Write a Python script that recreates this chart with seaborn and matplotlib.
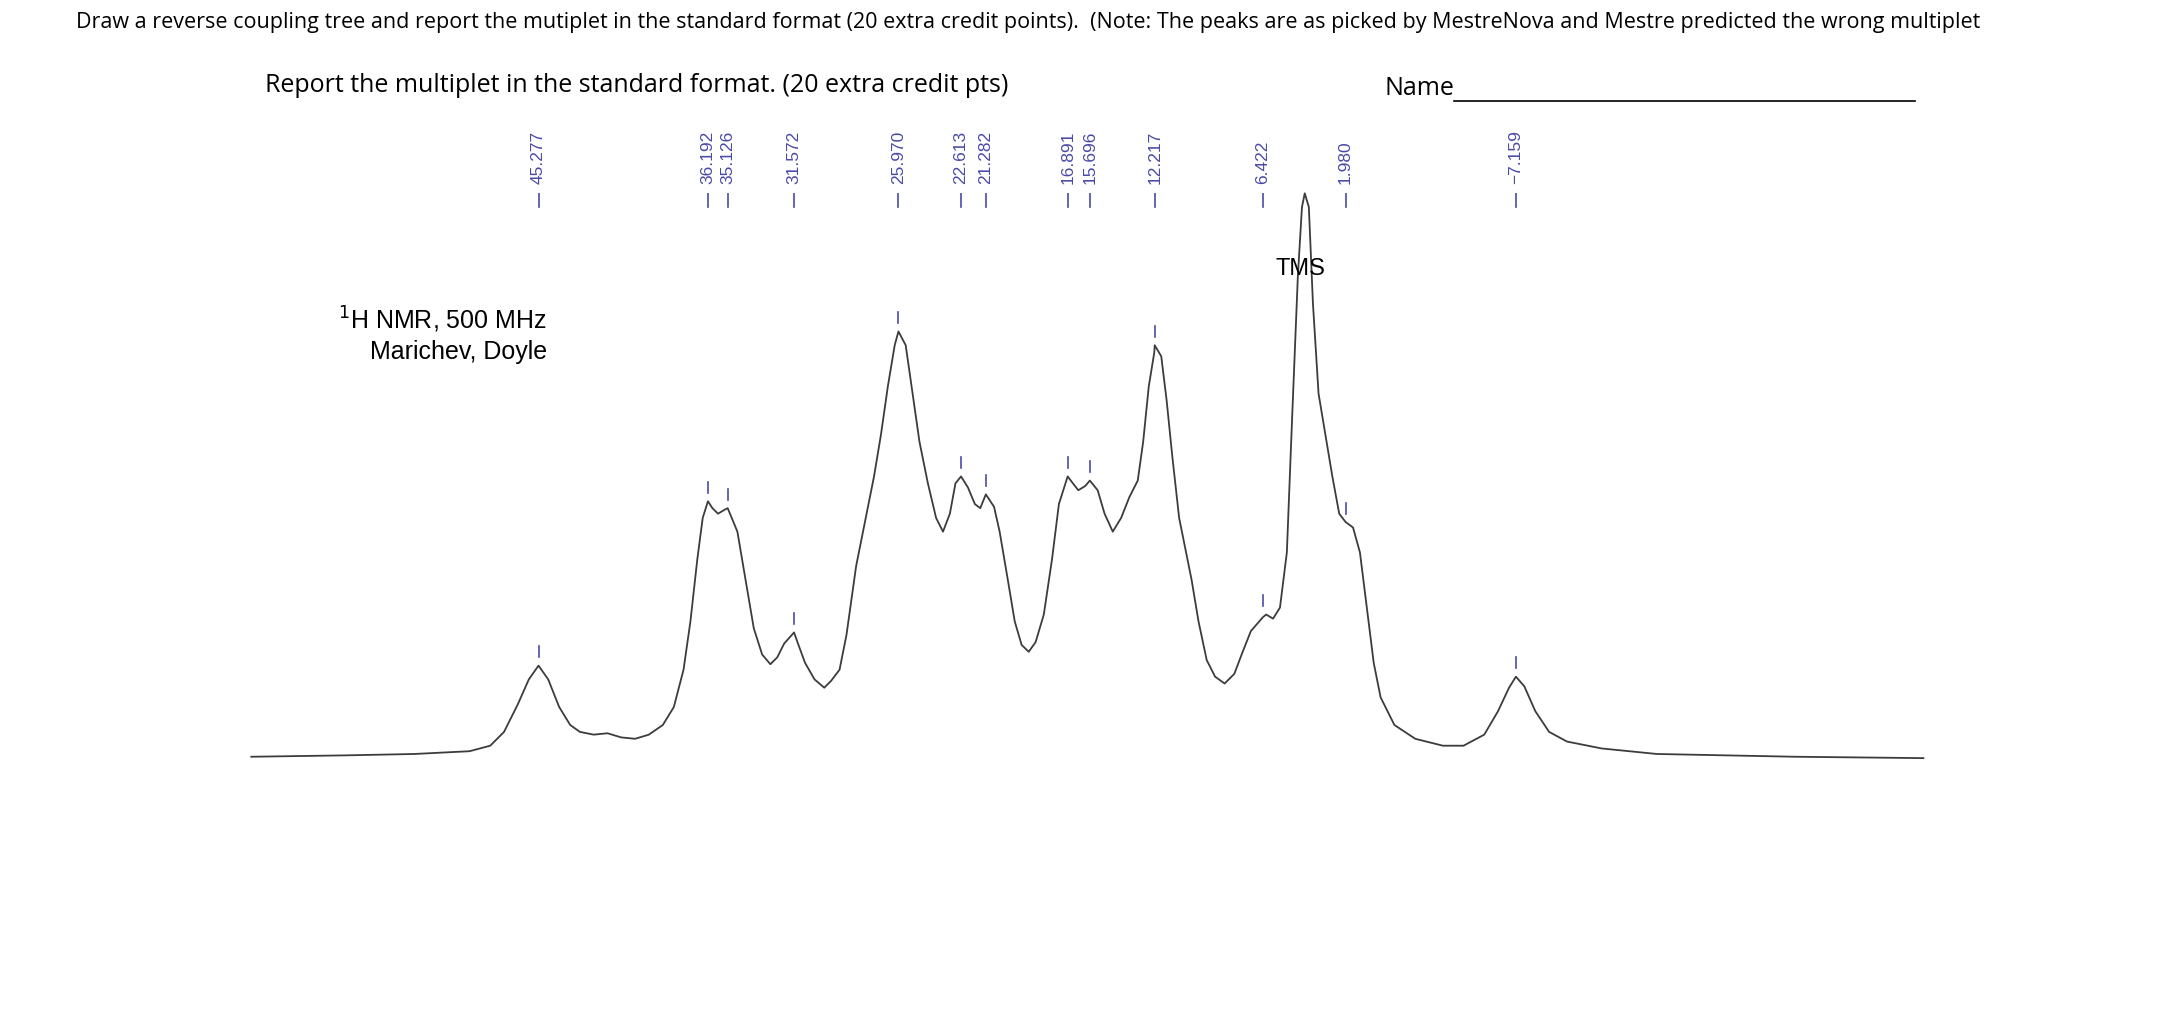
import matplotlib
matplotlib.use("Agg")
import matplotlib.pyplot as plt
import matplotlib.transforms as mtransforms
import seaborn as sns
import pandas as pd

# traced spectrum: frequency (Hz) vs intensity (arbitrary units)
trace_hz = [60.69, 55.65, 51.95, 48.98, 47.87, 47.13, 46.39, 45.80, 45.28, 44.76, 44.17, 43.58,
            43.06, 42.32, 41.58, 40.84, 40.10, 39.36, 38.61, 38.02, 37.50, 37.13, 36.76, 36.47,
            36.19, 35.95, 35.65, 35.28, 35.13, 34.61, 34.17, 33.73, 33.28, 32.84, 32.47, 32.10,
            31.57, 31.36, 30.98, 30.47, 29.95, 29.58, 29.13, 28.76, 28.24, 27.65, 27.28, 26.91,
            26.54, 26.17, 25.97, 25.58, 25.21, 24.84, 24.39, 23.95, 23.58, 23.21, 22.91, 22.61,
            22.24, 21.87, 21.58, 21.28, 20.84, 20.54, 20.10, 19.73, 19.36, 18.98, 18.61, 18.17,
            17.73, 17.36, 16.89, 16.61, 16.32, 15.95, 15.70, 15.28, 14.91, 14.47, 14.02, 13.58,
            13.13, 12.84, 12.54, 12.24, 12.22, 11.87, 11.58, 11.28, 10.91, 10.61, 10.24, 9.87,
            9.43, 8.98, 8.47, 7.95, 7.50, 7.06, 6.42, 6.24, 5.87, 5.50, 5.13, 4.84, 4.54, 4.32,
            4.17, 3.95, 3.73, 3.43, 3.06, 2.69, 2.32, 1.98, 1.58, 1.21, 0.84, 0.47, 0.10, -0.64,
            -1.76, -3.24, -4.35, -5.46, -6.20, -6.79, -7.16, -7.61, -8.20, -8.94, -9.90, -11.76,
            -14.72, -18.42, -22.13, -29.02]
trace_int = [0, 1, 2, 4, 8, 18, 38, 56, 66, 56, 36, 23,
             18, 16, 17, 14, 13, 16, 23, 36, 63, 98, 143, 173,
             185, 180, 176, 179, 180, 163, 128, 93, 74, 67, 72, 82,
             90, 82, 68, 56, 50, 55, 63, 88, 138, 178, 203, 233,
             268, 298, 308, 298, 263, 228, 198, 173, 163, 176, 198, 203,
             195, 183, 180, 190, 181, 163, 128, 98, 81, 76, 83, 103,
             143, 183, 203, 198, 193, 196, 200, 193, 176, 163, 173, 188,
             200, 228, 268, 293, 298, 290, 258, 218, 173, 153, 128, 98,
             70, 58, 53, 60, 76, 91, 101, 103, 100, 108, 148, 248, 348, 398,
             408, 398, 328, 263, 233, 203, 176, 170, 166, 148, 108, 68, 43, 23,
             13, 8, 8, 16, 33, 50, 58, 51, 33, 18, 11, 6,
             2, 1, 0, -1]

# peaks as picked by the software
peak_labels = ["45.277", "36.192", "35.126", "31.572", "25.970", "22.613", "21.282",
               "16.891", "15.696", "12.217", "6.422", "1.980", "-7.159"]
peak_hz = [45.277, 36.192, 35.126, 31.572, 25.970, 22.613, 21.282,
           16.891, 15.696, 12.217, 6.422, 1.980, -7.159]
peak_int = [66, 185, 180, 90, 308, 203, 190, 203, 200, 298, 103, 170, 58]

df = pd.DataFrame({"hz": trace_hz, "intensity": trace_int})

blue = "#4a4aa8"
W, H = 1568.0, 749.5  # reference layout units

fig = plt.figure(figsize=(21.65, 10.35), dpi=100)
ax = fig.add_axes([182 / W, 1 - 548 / H, (1393 - 182) / W, (548 - 140) / H])
sns.lineplot(data=df, x="hz", y="intensity", ax=ax, color="#3c3c3c", linewidth=1.3,
             sort=False, estimator=None, clip_on=False)
ax.set_xlim(60.69, -29.02)
ax.set_ylim(0, 408)
ax.axis("off")

trans = mtransforms.blended_transform_factory(ax.transData, fig.transFigure)
for lab, x, y in zip(peak_labels, peak_hz, peak_int):
    # small pick mark above the peak
    ax.plot([x, x], [y + 6, y + 14], color=blue, linewidth=1.2, clip_on=False)
    ax.plot([x, x], [1 - 150 / H, 1 - 132 / H], color=blue, linewidth=1.2, transform=trans)
    txt = lab.replace("-", "\u2212")
    ax.text(x, 1 - 133 / H, txt, rotation=90, ha="center", va="bottom", color=blue,
            fontsize=12.5, family=["Liberation Sans", "DejaVu Sans"], transform=trans)

fam_c = ["Liberation Sans Narrow", "Open Sans", "DejaVu Sans"]
fig.text(55 / W, 1 - 16 / H,
         "Draw a reverse coupling tree and report the mutiplet in the standard format (20 extra credit points).  "
         "(Note: The peaks are as picked by MestreNova and Mestre predicted the wrong multiplet",
         ha="left", va="center", fontsize=15.5, family=fam_c)
fig.text(192 / W, 1 - 62 / H, "Report the multiplet in the standard format. (20 extra credit pts)",
         ha="left", va="center", fontsize=18, family=fam_c)
fig.text(1003 / W, 1 - 64 / H, "Name", ha="left", va="center", fontsize=18, family=fam_c)
fig.add_artist(plt.Line2D([1053 / W, 1387 / W], [1 - 73 / H, 1 - 73 / H], color="black",
                          linewidth=1.2))

fam_a = ["Liberation Sans", "DejaVu Sans"]
fig.text(396 / W, 1 - 232 / H, r"$^{1}$H NMR, 500 MHz", ha="right", va="center",
         fontsize=18, family=fam_a)
fig.text(396 / W, 1 - 255 / H, "Marichev, Doyle", ha="right", va="center", fontsize=18,
         family=fam_a)
fig.text(942 / W, 1 - 195 / H, "TMS", ha="center", va="center", fontsize=17, family=fam_a)

fig.savefig("out.png", dpi=100, facecolor="white")
